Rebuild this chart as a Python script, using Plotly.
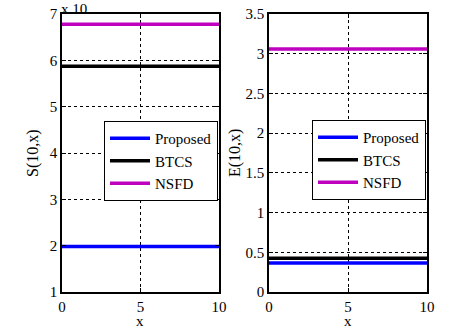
import plotly.graph_objects as go

# Spatial grid and steady solution levels at t = 10
x_vals = [0, 10]
series_names = ["Proposed", "BTCS", "NSFD"]
series_colors = ["#0000ff", "#000000", "#bf00bf"]
s_values = [1.98, 5.87, 6.78]     # S(10,x), scaled by 10^k
e_values = [0.364, 0.424, 3.06]   # E(10,x)

s_ticks = [1, 2, 3, 4, 5, 6, 7]
e_ticks = [0, 0.5, 1, 1.5, 2, 2.5, 3, 3.5]
e_ticklabels = ["0", "0.5", "1", "1.5", "2", "2.5", "3", "3.5"]
x_ticks = [0, 5, 10]

FONT = "Liberation Serif"
FS = 16
W, H = 474, 331

fig = go.Figure()
for name, color, sv, ev in zip(series_names, series_colors, s_values, e_values):
    fig.add_trace(go.Scatter(x=x_vals, y=[sv, sv], mode="lines", name=name,
                             line=dict(color=color, width=3.5),
                             xaxis="x", yaxis="y", legend="legend"))
    fig.add_trace(go.Scatter(x=x_vals, y=[ev, ev], mode="lines", name=name,
                             line=dict(color=color, width=3.5),
                             xaxis="x2", yaxis="y2", legend="legend2"))

axis_common = dict(showline=True, linecolor="black", linewidth=1.5, mirror="ticks",
                   ticks="inside", ticklen=4, tickcolor="black",
                   showgrid=True, gridcolor="black", gridwidth=1, griddash="dot",
                   zeroline=False, tickfont=dict(family=FONT, size=15, color="black"))

def px_x(p):
    return p / W

def px_y(p):
    return 1 - p / H

def label(text, x, y, angle=0, size=FS, xanchor="center", yanchor="middle"):
    return dict(text=text, x=px_x(x), y=px_y(y), xref="paper", yref="paper",
                xanchor=xanchor, yanchor=yanchor, textangle=angle, showarrow=False,
                borderpad=0, font=dict(family=FONT, size=size, color="black"))

legend_style = dict(xanchor="right", yanchor="top", bgcolor="white",
                    bordercolor="black", borderwidth=1,
                    font=dict(family=FONT, size=15), tracegroupgap=0,
                    itemwidth=40)

fig.update_layout(
    width=W, height=H,
    margin=dict(l=0, r=0, t=0, b=0, autoexpand=False),
    paper_bgcolor="white", plot_bgcolor="white",
    font=dict(family=FONT, size=FS, color="black"),
    xaxis=dict(domain=[px_x(62), px_x(219)], range=[0, 10], tickvals=x_ticks,
               anchor="y", **axis_common),
    yaxis=dict(domain=[px_y(292), px_y(14)], range=[1, 7], tickvals=s_ticks,
               anchor="x", **axis_common),
    xaxis2=dict(domain=[px_x(269), px_x(427)], range=[0, 10], tickvals=x_ticks,
                anchor="y2", **axis_common),
    yaxis2=dict(domain=[px_y(292), px_y(14)], range=[0, 3.5], tickvals=e_ticks,
                ticktext=e_ticklabels, anchor="x2", **axis_common),
    legend=dict(x=px_x(218), y=px_y(121), **legend_style),
    legend2=dict(x=px_x(426), y=px_y(120), **legend_style),
    annotations=[
        label("x 10", 60, 0, size=15, xanchor="left", yanchor="top"),
        label("x", 140, 321, size=15),
        label("x", 348, 321, size=15),
        label("S(10,x)", 33, 153, angle=-90),
        label("E(10,x)", 235, 153, angle=-90),
    ],
)

fig.write_html("out.html")
